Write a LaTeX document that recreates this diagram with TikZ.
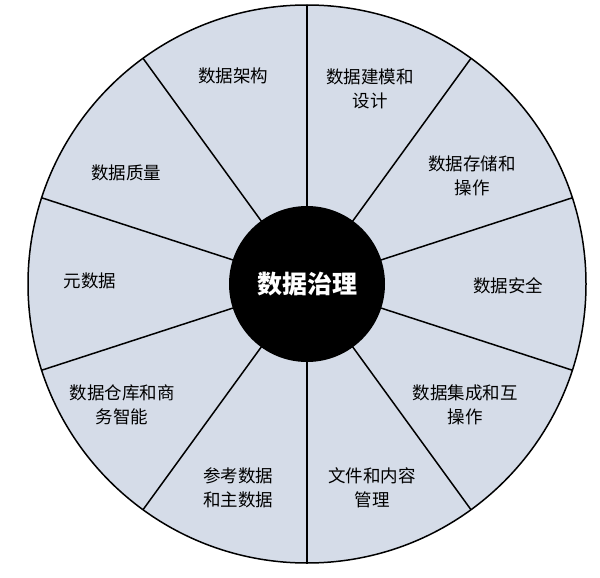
\documentclass[tikz,border=0pt]{standalone}
\usepackage{fontspec}
\newfontfamily\cjk{Noto Sans CJK SC}
\definecolor{sec}{HTML}{D5DCE8}
\begin{document}
\begin{tikzpicture}[x=1pt,y=-1pt,
  lab/.style={font=\cjk\fontsize{17.5}{24}\selectfont,align=center,text=black}]
\useasboundingbox (0,0) rectangle (600,578);
\coordinate (c) at (307,284);
\fill[sec] (c) circle[radius=279];
\foreach \a in {90,126,162,198,234,270,306,342,18,54}
  \draw[line width=1.5pt] (c) -- ++({279*cos(\a)},{-279*sin(\a)});
\draw[line width=1.5pt] (c) circle[radius=279];
\node[circle,fill=black,minimum size=156pt,inner sep=0pt,text=white,font=\cjk\bfseries\fontsize{25}{28}\selectfont] (center) at (c) {数据治理};
\node[lab] (n1) at (233,76) {数据架构};
\node[lab] (n2) at (370,89) {数据建模和\\设计};
\node[lab] (n3) at (472,176) {数据存储和\\操作};
\node[lab] (n4) at (508,286) {数据安全};
\node[lab] (n5) at (465,405) {数据集成和互\\操作};
\node[lab] (n6) at (372,488) {文件和内容\\管理};
\node[lab] (n7) at (238,488) {参考数据\\和主数据};
\node[lab] (n8) at (122,405) {数据仓库和商\\务智能};
\node[lab] (n9) at (90,281) {元数据};
\node[lab] (n10) at (126,173) {数据质量};
\end{tikzpicture}
\end{document}
